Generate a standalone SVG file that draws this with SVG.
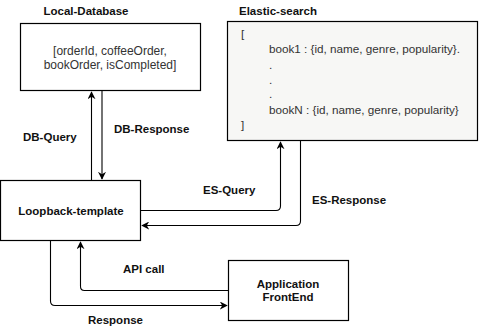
<svg xmlns="http://www.w3.org/2000/svg" width="479" height="331" viewBox="0 0 479 331">
<defs>
<style>
.box{fill:#ffffff;stroke:#000000;stroke-width:1.2}
.lbl{font-family:"Liberation Sans",Arial,sans-serif;font-size:11.5px;font-weight:bold;fill:#111111}
.txt{font-family:"Liberation Sans",Arial,sans-serif;font-size:12px;fill:#333333}
.es{font-size:11.7px}
.con{fill:none;stroke:#000000;stroke-width:1.1}
</style>
<marker id="arr" viewBox="0 0 10 10" refX="9" refY="5" markerWidth="8" markerHeight="8" markerUnits="userSpaceOnUse" orient="auto">
<path d="M0,0 L10,5 L0,10 L3,5 Z" fill="#000000"/>
</marker>
</defs>
<rect width="479" height="331" fill="#ffffff"/>
<g id="local-database">
<text class="lbl" x="86" y="15" text-anchor="middle">Local-Database</text>
<rect class="box" x="20.5" y="23.5" width="180" height="67"/>
<text class="txt" x="110" y="55" text-anchor="middle">[orderId, coffeeOrder,</text>
<text class="txt" x="110" y="69" text-anchor="middle">bookOrder, isCompleted]</text>
</g>
<g id="elastic-search">
<text class="lbl" x="278" y="15" text-anchor="middle">Elastic-search</text>
<rect class="box" x="227.5" y="21.5" width="250" height="119" style="fill:#f7f7f5"/>
<text class="txt es" x="241" y="38">[</text>
<text class="txt es" x="269" y="53">book1 : {id, name, genre, popularity}.</text>
<text class="txt es" x="269" y="69">.</text>
<text class="txt es" x="269" y="84">.</text>
<text class="txt es" x="269" y="98">.</text>
<text class="txt es" x="269" y="114">bookN : {id, name, genre, popularity}</text>
<text class="txt es" x="241" y="129">]</text>
</g>
<g id="loopback-template">
<rect class="box" x="0.5" y="180.5" width="140" height="60"/>
<text class="lbl" x="71" y="215" text-anchor="middle">Loopback-template</text>
</g>
<g id="application-frontend">
<rect class="box" x="228.5" y="260.5" width="120" height="60"/>
<text class="lbl" x="288" y="288" text-anchor="middle">Application</text>
<text class="lbl" x="288" y="301" text-anchor="middle">FrontEnd</text>
</g>
<g id="connectors">
<path class="con" d="M91.5,180 V92" marker-end="url(#arr)"/>
<path class="con" d="M102,91 V179" marker-end="url(#arr)"/>
<path class="con" d="M141,210.5 H276 Q280.5,210.5 280.5,206 V142" marker-end="url(#arr)"/>
<path class="con" d="M300.5,141 V221 Q300.5,225.5 296,225.5 H142" marker-end="url(#arr)"/>
<path class="con" d="M228,290.5 H84.5 Q80.5,290.5 80.5,286.5 V242" marker-end="url(#arr)"/>
<path class="con" d="M50.5,241 V301 Q50.5,305.5 55,305.5 H227" marker-end="url(#arr)"/>
<text class="lbl" x="23" y="141">DB-Query</text>
<text class="lbl" x="114" y="133">DB-Response</text>
<text class="lbl" x="203" y="194">ES-Query</text>
<text class="lbl" x="312" y="204">ES-Response</text>
<text class="lbl" x="123" y="273">API call</text>
<text class="lbl" x="88" y="324">Response</text>
</g>
</svg>
